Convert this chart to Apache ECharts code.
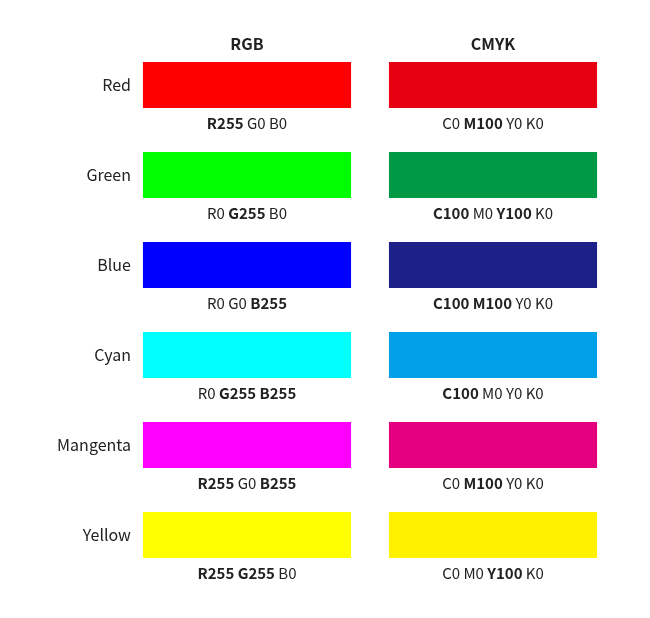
<!DOCTYPE html>
<html><head><meta charset="utf-8">
<script src="https://cdn.jsdelivr.net/npm/echarts@6/dist/echarts.min.js"></script>
<style>html,body{margin:0;background:#fff}#c{width:650px;height:618px}</style>
</head><body><div id="c"></div>
<script>
const columns = ['RGB', 'CMYK'];
const rows = ['Red', 'Green', 'Blue', 'Cyan', 'Mangenta', 'Yellow'];
const rgbValues = [[255,0,0],[0,255,0],[0,0,255],[0,255,255],[255,0,255],[255,255,0]];
const cmykValues = [[0,100,0,0],[100,0,100,0],[100,100,0,0],[100,0,0,0],[0,100,0,0],[0,0,100,0]];
const rgbColors = ['#ff0000','#00ff00','#0000ff','#00ffff','#ff00ff','#ffff00'];
const cmykColors = ['#e60012','#009944','#1d2088','#00a0e9','#e4007f','#fff100'];

function caption(letters, vals, boldTest){
  return letters.map((l,i)=>`{${boldTest(vals[i])?'b':'n'}|${l}${vals[i]}}`).join('{n| }');
}
const data = [];
rows.forEach((r,i)=>{
  data.push([0,i,rgbColors[i],caption(['R','G','B'],rgbValues[i],v=>v>0)]);
  data.push([1,i,cmykColors[i],caption(['C','M','Y','K'],cmykValues[i],v=>v===100)]);
});
const font = '"Noto Sans CJK KR","Noto Sans",sans-serif';
const chart = echarts.init(document.getElementById('c'));
chart.setOption({
  animation:false,
  grid:{left:124,right:34,top:40,bottom:38},
  xAxis:{type:'category',data:columns,position:'top',axisLine:{show:false},axisTick:{show:false},
    axisLabel:{margin:-12,fontFamily:font,fontSize:16,fontWeight:'bold',color:'#222'}},
  yAxis:{type:'category',data:rows,inverse:true,show:false},
  series:[{type:'custom',data:data,
    renderItem:(params,api)=>{
      const p = api.coord([api.value(0),api.value(1)]);
      const s = api.size([1,1]);
      const w = s[0]*0.846, h = s[1]*0.51;
      const d = data[params.dataIndex];
      const children = [
        {type:'rect',shape:{x:p[0]-w/2,y:p[1]-h/2,width:w,height:h},style:{fill:d[2]}},
        {type:'text',x:p[0],y:p[1]+h/2+15,style:{text:d[3],align:'center',verticalAlign:'middle',
          rich:{b:{fontFamily:font,fontSize:15,fontWeight:'bold',fill:'#222'},n:{fontFamily:font,fontSize:15,fill:'#222'}}}}
      ];
      if(d[0]===0){
        children.push({type:'text',x:p[0]-w/2-12,y:p[1],style:{text:rows[d[1]],align:'right',verticalAlign:'middle',
          fontFamily:font,fontSize:16,fill:'#222'}});
      }
      return {type:'group',children};
    }}]
});
</script></body></html>
